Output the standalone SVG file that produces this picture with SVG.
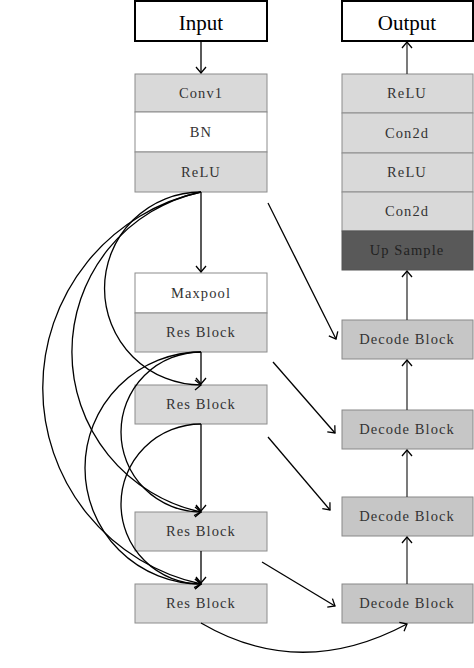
<svg xmlns="http://www.w3.org/2000/svg" width="474" height="668" viewBox="0 0 474 668">
<style>
.io{fill:#fff;stroke:#000;stroke-width:2}
.lt{fill:#d9d9d9;stroke:#8c8c8c;stroke-width:1}
.wh{fill:#fff;stroke:#8c8c8c;stroke-width:1}
.dk{fill:#595959;stroke:#555;stroke-width:1}
.dc{fill:#c6c6c6;stroke:#888;stroke-width:1}
.t{font-family:"Liberation Serif","Times New Roman",serif;font-size:14.5px;letter-spacing:1.1px;fill:#333;text-anchor:middle}
.tio{font-family:"Liberation Serif","Times New Roman",serif;font-size:21px;fill:#000;text-anchor:middle}
.c{fill:none;stroke:#000;stroke-width:1.3;marker-end:url(#ah)}
.g{fill:none;stroke:#333;stroke-width:1.3;marker-end:url(#ah)}
</style>
<defs>
<marker id="ah" viewBox="-8 -7 10 14" refX="0" refY="0" markerWidth="10" markerHeight="14" markerUnits="userSpaceOnUse" orient="auto">
<path d="M-6,-5 L0,0 L-6,5" fill="none" stroke="#000" stroke-width="1.3"/>
</marker>
</defs>
<g id="input"><rect class="io" x="135" y="1" width="132" height="40"/><text class="tio" x="201" y="30">Input</text></g>
<g id="output"><rect class="io" x="342" y="1" width="131" height="40"/><text class="tio" x="407" y="30">Output</text></g>
<g id="conv1"><rect class="lt" x="135" y="74" width="132" height="38"/><text class="t" x="201" y="98">Conv1</text></g>
<g id="bn"><rect class="wh" x="135" y="112" width="132" height="40"/><text class="t" x="201" y="137">BN</text></g>
<g id="relu1"><rect class="lt" x="135" y="152" width="132" height="40"/><text class="t" x="201" y="177">ReLU</text></g>
<g id="maxpool"><rect class="wh" x="135" y="273" width="132" height="40"/><text class="t" x="201" y="298">Maxpool</text></g>
<g id="res1"><rect class="lt" x="135" y="313" width="132" height="39"/><text class="t" x="201" y="337">Res Block</text></g>
<g id="res2"><rect class="lt" x="135" y="385" width="132" height="39"/><text class="t" x="201" y="409">Res Block</text></g>
<g id="res3"><rect class="lt" x="135" y="512" width="132" height="39"/><text class="t" x="201" y="536">Res Block</text></g>
<g id="res4"><rect class="lt" x="135" y="584" width="132" height="39"/><text class="t" x="201" y="608">Res Block</text></g>
<g id="relu_out"><rect class="lt" x="342" y="74" width="131" height="39"/><text class="t" x="407" y="98">ReLU</text></g>
<g id="con2d_1"><rect class="lt" x="342" y="113" width="131" height="40"/><text class="t" x="407" y="138">Con2d</text></g>
<g id="relu_2"><rect class="lt" x="342" y="153" width="131" height="39"/><text class="t" x="407" y="177">ReLU</text></g>
<g id="con2d_2"><rect class="lt" x="342" y="192" width="131" height="39"/><text class="t" x="407" y="216">Con2d</text></g>
<g id="upsample"><rect class="dk" x="342" y="231" width="131" height="39"/><text class="t" x="407" y="255" style="fill:#222">Up Sample</text></g>
<g id="dec1"><rect class="dc" x="342" y="320" width="131" height="39"/><text class="t" x="407" y="344">Decode Block</text></g>
<g id="dec2"><rect class="dc" x="342" y="410" width="131" height="39"/><text class="t" x="407" y="434">Decode Block</text></g>
<g id="dec3"><rect class="dc" x="342" y="497" width="131" height="39"/><text class="t" x="407" y="521">Decode Block</text></g>
<g id="dec4"><rect class="dc" x="342" y="584" width="131" height="39"/><text class="t" x="407" y="608">Decode Block</text></g>
<g id="connectors">
<path class="c" d="M201,41 V73"/>
<path class="c" d="M201,192 V272"/>
<path class="c" d="M201,352 V384"/>
<path class="c" d="M201,424 V511"/>
<path class="c" d="M201,551 V583"/>
<path class="g" d="M407,584 V537"/>
<path class="g" d="M407,497 V450"/>
<path class="g" d="M407,410 V360"/>
<path class="g" d="M407,320 V271"/>
<path class="g" d="M407,74 V42"/>
<path class="c" d="M201,192 A96.5,96.5 0 0 0 201,385"/>
<path class="c" d="M201,192 A163.7,163.7 0 0 0 201,512"/>
<path class="c" d="M201,192 A200.5,200.5 0 0 0 201,584"/>
<path class="c" d="M201,352 A80,80 0 0 0 201,512"/>
<path class="c" d="M201,352 A116,116 0 0 0 201,584"/>
<path class="c" d="M201,424 A80,80 0 0 0 201,584"/>
<path class="c" d="M268,203 L336,339"/>
<path class="c" d="M273,362 L335,433"/>
<path class="c" d="M268,437 L330,510"/>
<path class="c" d="M262,562 L335,606"/>
<path class="c" d="M201,623 Q300,681 407,624"/>
</g>
</svg>
